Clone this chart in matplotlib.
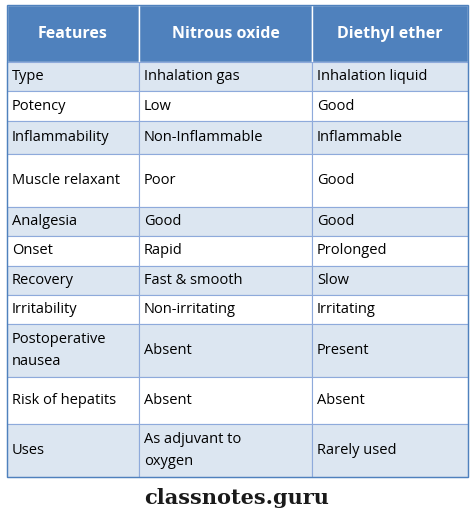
import matplotlib
matplotlib.use("Agg")
import matplotlib.pyplot as plt
from matplotlib.patches import Rectangle

headers = ["Features", "Nitrous oxide", "Diethyl ether"]
features = ["Type", "Potency", "Inflammability", "Muscle relaxant", "Analgesia", "Onset",
            "Recovery", "Irritability", "Postoperative\nnausea", "Risk of hepatits", "Uses"]
nitrous = ["Inhalation gas", "Low", "Non-Inflammable", "Poor", "Good", "Rapid",
           "Fast & smooth", "Non-irritating", "Absent", "Absent", "As adjuvant to\noxygen"]
ether = ["Inhalation liquid", "Good", "Inflammable", "Good", "Good", "Prolonged",
         "Slow", "Irritating", "Present", "Absent", "Rarely used"]
row_edges = [62, 91, 121, 154, 207, 236, 266, 295, 324, 377, 424, 477]
col_edges = [7, 139, 312, 468]
header_top = 5

fig = plt.figure(figsize=(4.74, 5.2), dpi=100)
ax = fig.add_axes([0, 0, 1, 1])
ax.set_xlim(0, 474); ax.set_ylim(520, 0); ax.axis("off")
plt.rcParams['font.family'] = ['Open Sans', 'DejaVu Sans']

line = "#8eaadb"
# header
for i, h in enumerate(headers):
    x0, x1 = col_edges[i], col_edges[i+1]
    ax.add_patch(Rectangle((x0, header_top), x1-x0, row_edges[0]-header_top,
                           facecolor="#4f81bd", edgecolor="white", lw=1))
    ax.text((x0+x1)/2, (header_top+row_edges[0])/2, h, ha="center", va="center",
            color="white", fontsize=11.5, fontweight="bold")

for r in range(len(features)):
    y0, y1 = row_edges[r], row_edges[r+1]
    fc = "#dce6f1" if r % 2 == 0 else "white"
    for c, vals in enumerate([features, nitrous, ether]):
        x0, x1 = col_edges[c], col_edges[c+1]
        ax.add_patch(Rectangle((x0, y0), x1-x0, y1-y0, facecolor=fc, edgecolor=line, lw=0.8))
        ax.text(x0+5, (y0+y1)/2, vals[r], ha="left", va="center", color="black",
                fontsize=10.5, linespacing=1.6)

ax.add_patch(Rectangle((col_edges[0], header_top), col_edges[-1]-col_edges[0],
                       row_edges[-1]-header_top, fill=False, edgecolor="#4f81bd", lw=1))

ax.text(237, 498, "classnotes.guru", ha="center", va="center", fontsize=15,
        fontweight="bold", family=["DejaVu Serif"], color="#1a1a1a")

fig.savefig("out.png", dpi=100)
